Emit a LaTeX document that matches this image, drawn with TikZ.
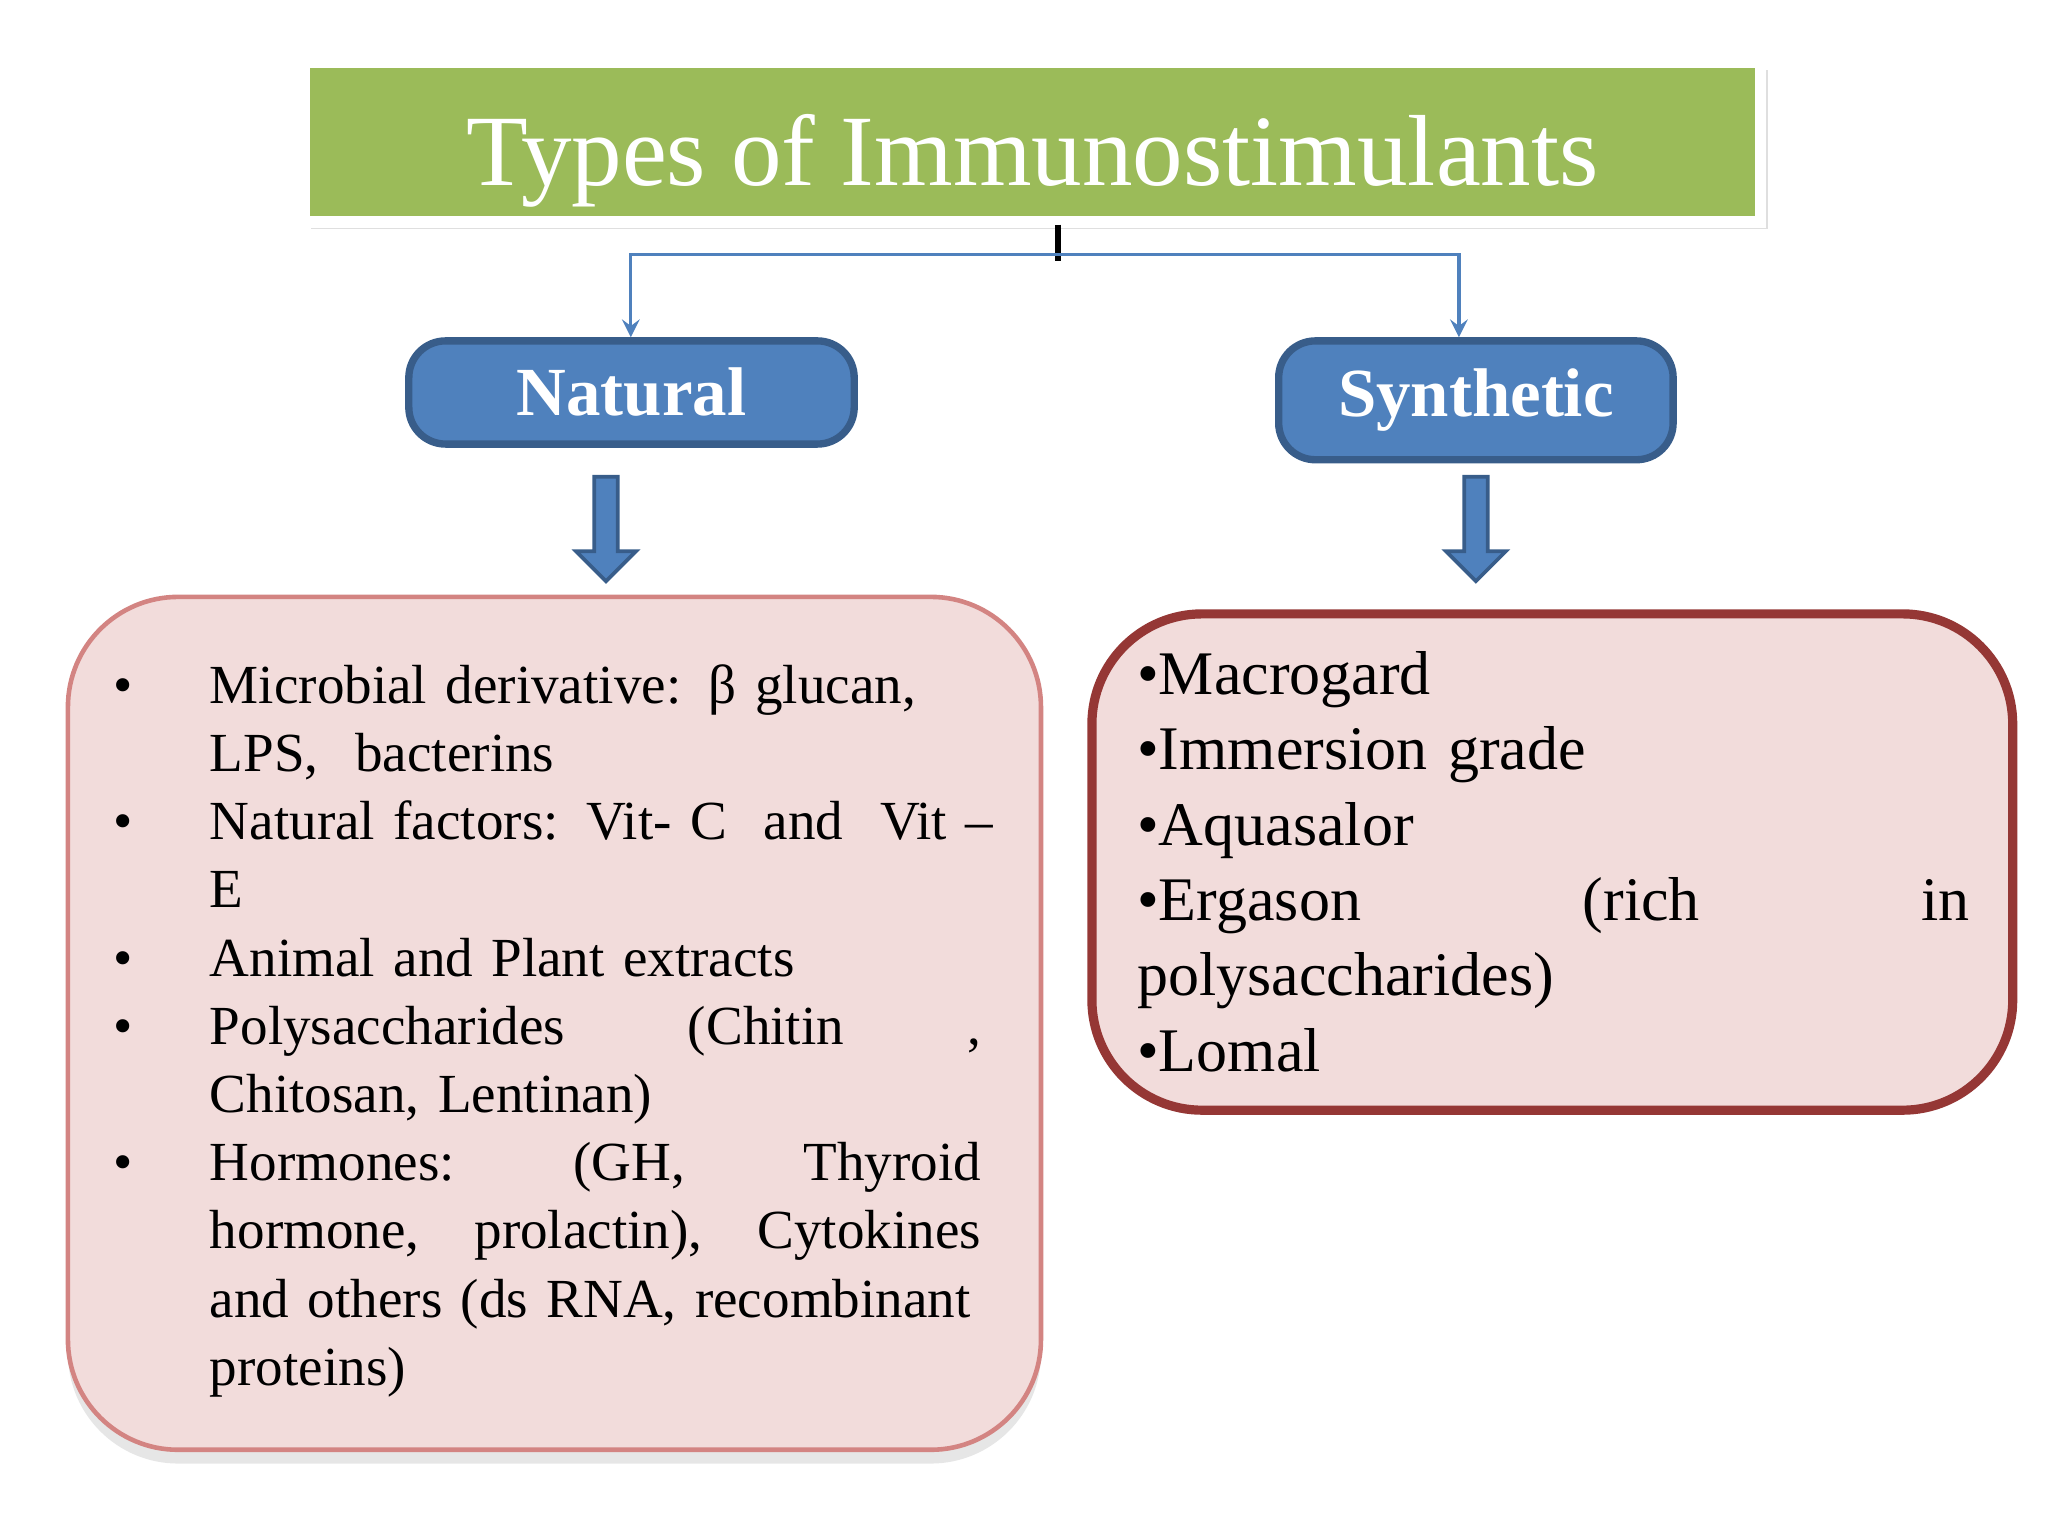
\documentclass[tikz,border=0pt]{standalone}
\usepackage{fontspec}
\setmainfont{Liberation Serif}
\usetikzlibrary{fit,positioning,shadows}
\definecolor{titlegreen}{HTML}{9BBB59}
\definecolor{boxblue}{HTML}{4F81BD}
\definecolor{boxblueline}{HTML}{385D8A}
\definecolor{pinkfill}{HTML}{F2DCDB}
\definecolor{redline}{HTML}{C0504D}
\definecolor{darkred}{HTML}{953735}
\tikzset{
  head/.style={fit=#1, inner sep=0pt, fill=titlegreen, draw=white, line width=2.5pt,
    drop shadow={shadow xshift=1.5pt, shadow yshift=-1.5pt, opacity=0.25}},
  kind/.style={fit=#1, inner sep=0pt, rounded corners=8pt, fill=boxblue,
    draw=boxblueline, line width=1.6pt},
  kindtext/.style={text=white, font=\fontsize{15}{18}\selectfont\bfseries},
  group/.style={fit=#1, inner sep=0pt, rounded corners=24pt, fill=pinkfill, draw=redline},
  link/.style={->, >=stealth, boxblue, line width=0.7pt},
  bigarrow/.style={fill=boxblue, draw=boxblueline, line width=0.8pt}
}
\newcommand{\sline}[1]{\makebox[\linewidth][s]{#1}\\}
\newcommand{\bul}{\leavevmode\llap{\textbullet\hspace{1.4em}}}
\begin{document}
\begin{tikzpicture}[x=0.01cm, y=-0.01cm]
  \useasboundingbox (0,0) rectangle (1568,1176);
  % titolo
  \coordinate (t1) at (233,48); \coordinate (t2) at (1348,170);
  \node[head=(t1)(t2)] (title) {};
  \node[text=white, font=\fontsize{22}{26}\selectfont] at ([yshift=-4pt]title.center) {Types of Immunostimulants};

  % categorie
  \coordinate (n1) at (313,261); \coordinate (n2) at (654,340);
  \node[kind=(n1)(n2)] (natural) {};
  \node[kindtext] at (natural.center) {Natural};
  \coordinate (s1) at (979,261); \coordinate (s2) at (1281,352);
  \node[kind=(s1)(s2)] (synthetic) {};
  \node[kindtext] at (synthetic.center) {Synthetic};

  % ligacoes
  \coordinate (top) at (810,172);
  \coordinate (mid) at (810,195);
  \draw[black, line width=1.5pt] (810,172) -- (810,200);
  \draw[link] (mid) -| (natural.north -| 483,0);
  \draw[link] (mid) -| (synthetic.north -| 1117,0);

  % setas grossas
  \foreach \x in {464,1130}
    \draw[bigarrow] (\x-9,365) -- (\x+9,365) -- (\x+9,422) -- (\x+23,422)
      -- (\x,445) -- (\x-23,422) -- (\x-9,422) -- cycle;

  % caixas de conteudo
  \coordinate (l1) at (52,457); \coordinate (l2) at (797,1110);
  \node[group=(l1)(l2), draw=redline!70, line width=1pt,
    drop shadow={shadow xshift=0pt, shadow yshift=-3pt, opacity=0.2}] (natlist) {};
  \coordinate (r1) at (836,470); \coordinate (r2) at (1541,850);
  \node[group=(r1)(r2), draw=darkred, line width=2pt] (synlist) {};

  \node[anchor=north west, text width=5.9cm, align=left, inner sep=0pt,
    font=\fontsize{12}{14.85}\selectfont] (nattext) at (160,508) {%
    \bul\sline{Microbial derivative: β glucan,}
    LPS,\ \ bacterins\\
    \bul\sline{Natural factors: Vit- C\ \ and\ \ Vit –}
    E\\
    \bul Animal and Plant extracts\\
    \bul\sline{Polysaccharides\hfill(Chitin\hfill,}
    Chitosan, Lentinan)\\
    \bul\sline{Hormones:\hfill(GH,\hfill Thyroid}
    \sline{hormone,\hfill prolactin),\hfill Cytokines}
    \sline{and others (ds RNA, recombinant}
    proteins)};

  \node[anchor=north west, text width=6.37cm, align=left, inner sep=0pt,
    font=\fontsize{13.5}{16.4}\selectfont] (syntext) at (870,498) {%
    •Macrogard\\
    •Immersion grade\\
    •Aquasalor\\
    \sline{•Ergason\hfill(rich\hfill in}
    polysaccharides)\\
    •Lomal};
\end{tikzpicture}
\end{document}
